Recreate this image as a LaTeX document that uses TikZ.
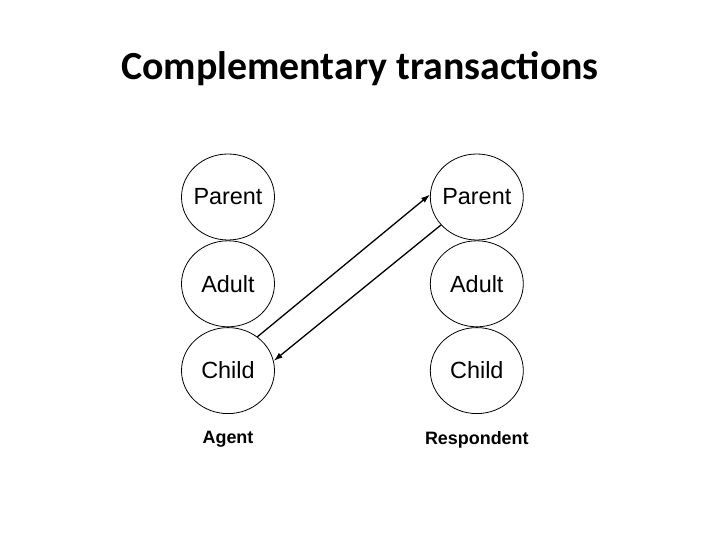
\documentclass[tikz,border=0pt]{standalone}
\usepackage{fontspec}
\setmainfont{Liberation Sans}
\newfontfamily\titlefont{Carlito}
\usetikzlibrary{positioning, shapes.geometric, arrows.meta}
\tikzset{
	ego/.style={draw, ellipse, line width=0.8bp, inner xsep=-14bp, inner ysep=0pt, minimum width=93bp, minimum height=86bp, font=\fontsize{23.5}{28}\selectfont},
	% names under the columns
	who/.style={inner sep=0pt, font=\fontsize{18}{21}\selectfont\bfseries},
}

\begin{document}
\begin{tikzpicture}[x=1bp, y=-1bp]
			\useasboundingbox (0,0) rectangle (720,540);
			\node (title) [anchor=base, inner sep=0pt, font=\fontsize{40}{48}\selectfont\titlefont\bfseries] at (360,80) {Complementary transactions};
			
			\node (p1) [ego] at (228,197) {Parent};
			\node (a1) [ego, below=0pt of p1] {Adult};
			\node (c1) [ego, below=0pt of a1] {Child};
			
			\node (p2) [ego, right=155bp of p1] {Parent};
			\node (a2) [ego, below=0pt of p2] {Adult};
			\node (c2) [ego, below=0pt of a2] {Child};
			
			\node (agent) [who, below=17bp of c1] {Agent};
			\node (resp) [who, below=17bp of c2] {Respondent};
			
			\begin{scope}[line width=1.3bp, black, ->, >={Latex[length=9bp, width=6bp]}]
				\draw (c1.49) -- (p2.177);
				\draw (p2.218) -- (c1.12);
			\end{scope}
\end{tikzpicture}
\end{document}
